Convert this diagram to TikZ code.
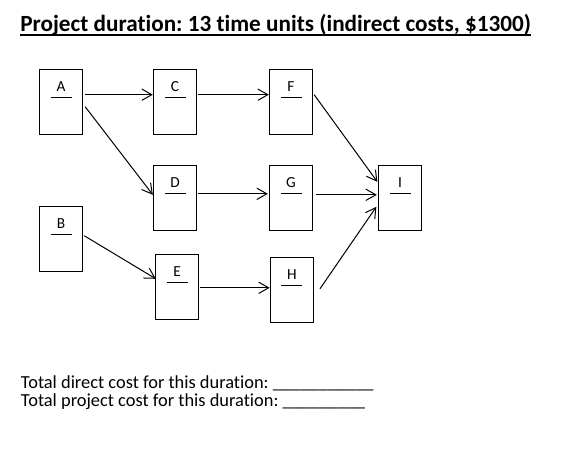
\documentclass[tikz,border=0pt]{standalone}
\usepackage{fontspec}
\setmainfont{Carlito}[Ligatures=NoCommon]
\usetikzlibrary{arrows.meta}
\frenchspacing
\begin{document}
\begin{tikzpicture}[x=0.75pt,y=-0.75pt,
  box/.style={draw,line width=0.75pt,minimum width=32.5pt,minimum height=48.75pt,inner sep=0pt},
  lab/.style={anchor=base,inner sep=0pt,font=\fontsize{11.5}{13}\selectfont},
  arr/.style={line width=0.75pt,-{Straight Barb[length=7.5pt,width=8.5pt]}},
  bar/.style={line width=0.75pt},
  txt/.style={anchor=base west,inner sep=0pt,font=\fontsize{13.8}{16}\selectfont}]
\useasboundingbox (0,0) rectangle (571,467);
% title
\node[anchor=base west,inner sep=0pt,font=\fontsize{17.4}{20}\bfseries] (title) at (20,31.5)
  {Project duration: 13 time units (indirect costs, \$1300)};
\draw[line width=1.5pt] ([yshift=-2.6pt]title.base west) -- ([yshift=-2.6pt]title.base east);
% boxes
\node[box] (A) at (61,101.7) {};
\node[box] (C) at (175,101.7) {};
\node[box] (F) at (291,101.7) {};
\node[box] (D) at (175,197.8) {};
\node[box] (G) at (291,197.8) {};
\node[box] (I) at (400,197.8) {};
\node[box] (B) at (61,238.7) {};
\node[box] (E) at (177,286.8) {};
\node[box] (H) at (291.8,289.8) {};
% labels and bars
\foreach \n in {A,B,C,D,E,F,G,H,I}{
  \node[lab] (\n lab) at ([yshift=-23*0.75pt]\n.north) {\n};
  \draw[bar] ([shift={(-10.5,29)}]\n.north) -- ([shift={(10.5,29)}]\n.north);
}
% connectors
\draw[arr] ([shift={(2,26)}]A.north east) -- ([shift={(0,26)}]C.north west);
\draw[arr] ([shift={(1,26)}]C.north east) -- ([shift={(0,26)}]F.north west);
\draw[arr] ([shift={(2,38)}]A.north east) -- ([shift={(0,30)}]D.north west);
\draw[arr] ([shift={(1,29)}]D.north east) -- ([shift={(-1,29)}]G.north west);
\draw[arr] ([shift={(1,30)}]B.north east) -- ([shift={(1,25)}]E.north west);
\draw[arr] ([shift={(1,34)}]E.north east) -- ([shift={(0,31)}]H.north west);
\draw[arr] ([shift={(1,26)}]F.north east) -- ([shift={(-0.5,17)}]I.north west);
\draw[arr] ([shift={(3,30)}]G.north east) -- ([shift={(-1,30)}]I.north west);
\draw[arr] ([shift={(6,32)}]H.north east) -- ([shift={(-1.5,42)}]I.north west);
% bottom text
\node[txt] (t1) at (20.7,388.3) {Total direct cost for this duration: \_\_\_\_\_\_\_\_\_\_\_};
\node[txt] (t2) at (20.7,406) {Total project cost for this duration: \_\_\_\_\_\_\_\_\_};
\end{tikzpicture}
\end{document}
